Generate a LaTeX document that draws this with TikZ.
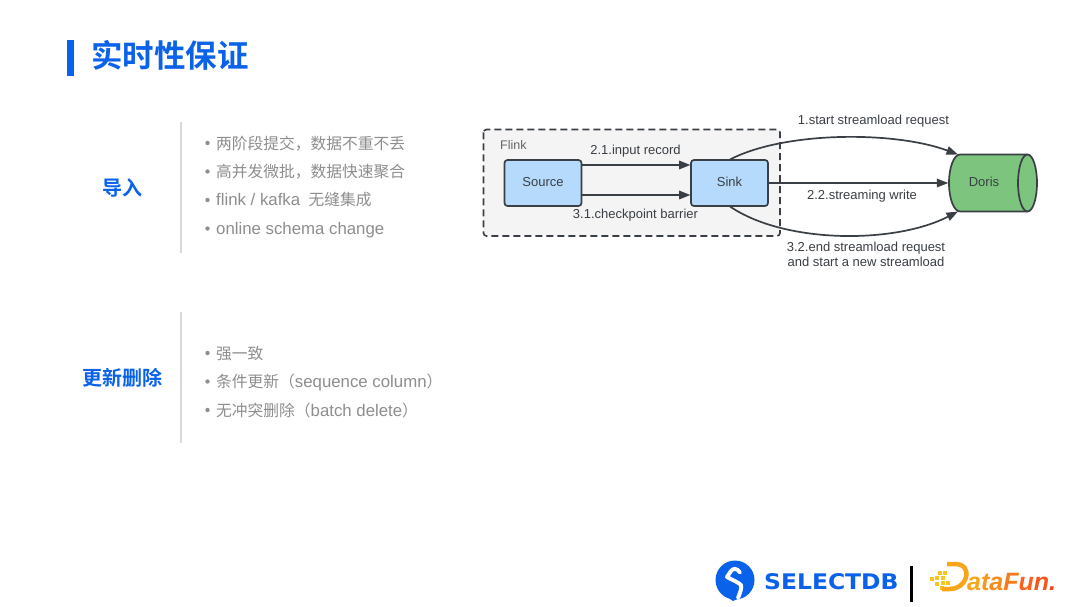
\documentclass[tikz,border=0pt]{standalone}
\usepackage{fontspec}
\setmainfont{Liberation Sans}
\newfontfamily\cjk{Noto Sans CJK SC}
\newfontfamily\cjkb{Noto Sans CJK SC Bold}
\newfontfamily\logofont{DejaVu Sans Bold}
\usetikzlibrary{arrows.meta}
\definecolor{brand}{HTML}{0A62EA}
\definecolor{bodygrey}{HTML}{8E8E8E}
\definecolor{ink}{HTML}{3A3F45}
\definecolor{lightblue}{HTML}{B5DAFB}
\definecolor{dorisgreen}{HTML}{7DC57F}
\definecolor{flinkbg}{HTML}{F4F4F4}
\definecolor{dfa}{HTML}{F9A51A}
\definecolor{dfb}{HTML}{F9971A}
\definecolor{dfc}{HTML}{F98B1A}
\definecolor{dfd}{HTML}{F97A1A}
\definecolor{dfe}{HTML}{F9621A}
\definecolor{dff}{HTML}{F7541A}
\definecolor{dfg}{HTML}{F0471A}
\definecolor{dfy}{HTML}{F9C41E}
\tikzset{
 x=1pt,y=-1pt,
 txt/.style={inner sep=0pt,anchor=base west,text=bodygrey,font=\fontsize{16.8}{17}\selectfont},
 head/.style={inner sep=0pt,text=brand,font=\fontsize{20}{20}\selectfont\cjkb},
 rule/.style={draw=black!15,line width=1.2pt},
 lab/.style={inner sep=0pt,text=ink,font=\fontsize{13}{15}\selectfont,align=center},
 baselab/.style={lab,anchor=base},
 box/.style={draw=ink,line width=1.7pt,rounded corners=3pt,fill=lightblue,minimum width=77pt,minimum height=46pt,inner sep=0pt},
 conn/.style={draw=ink,line width=1.7pt,-{Triangle[length=11.5pt,width=8.5pt]}},
}
\newcommand{\zh}[1]{{\fontsize{15.75}{17}\selectfont\cjk #1}}
\begin{document}
\begin{tikzpicture}
\useasboundingbox (0,0) rectangle (1080,607);
\fill[white] (0,0) rectangle (1080,607);
% title
\fill[brand] (67,40) rectangle (73.5,76);
\node[inner sep=0pt,anchor=west,text=brand,font=\fontsize{31.5}{32}\selectfont\cjkb] (title) at (91,55.5) {实时性保证};
% sections
\node[head] (h1) at (122,188) {导入};
\draw[rule] (181,122) -- (181,253);
\node[head] (h2) at (122,378) {更新删除};
\draw[rule] (181,312) -- (181,443);
\foreach \y in {143,171.5,200,228.5,353,381.5,410}{
 \fill[bodygrey] (207.5,\y) circle (2.2pt);
}
\node[txt] (a) at (216,149.2) {\zh{两阶段提交，数据不重不丢}};
\node[txt] (b) at (216,177.7) {\zh{高并发微批，数据快速聚合}};
\node[txt] (c) at (216,206) {flink / kafka\hspace{8.5pt}\zh{无缝集成}};
\node[txt] (d) at (216,234.2) {online schema change};
\node[txt] (e) at (216,359.2) {\zh{强一致}};
\node[txt] (f) at (216,387.7) {\zh{条件更新（}sequence column\zh{）}};
\node[txt] (g) at (216,416) {\zh{无冲突删除（}batch delete\zh{）}};
% diagram
\draw[draw=ink,fill=flinkbg,line width=1.6pt,dash pattern=on 7pt off 4pt,rounded corners=3pt] (483.5,129.5) rectangle (780,236);
\node[inner sep=0pt,text=black!60,font=\fontsize{12.5}{14}\selectfont,anchor=west] (flink) at (500,145) {Flink};
\node[box] (src) at (543,183) {};
\node[box] (snk) at (729.5,183) {};
\node[baselab] (srcl) at (543,186.7) {Source};
\node[baselab] (snkl) at (729.5,186.7) {Sink};
\node[inner sep=0pt,minimum width=88.5pt,minimum height=57pt] (dor) at (992.75,183) {};
\draw[draw=ink,line width=1.7pt,fill=dorisgreen] (960,154.5) arc[start angle=90,end angle=270,x radius=11pt,y radius=28.5pt] -- (1027.5,211.5) arc[start angle=270,end angle=450,x radius=9.5pt,y radius=28.5pt] -- cycle;
\draw[draw=ink,line width=1.7pt] (1027.5,154.5) arc[start angle=90,end angle=270,x radius=9.5pt,y radius=28.5pt];
\node[baselab] (dorl) at (984,186.7) {Doris};
\coordinate (t1) at (690.5,165);
\coordinate (t2) at (690.5,195);
\draw[conn] (src.east |- t1) -- (t1);
\draw[conn] (src.east |- t2) -- (t2);
\draw[conn] (snk.east) -- (dor.west);
\coordinate (up) at (730,159.5);
\coordinate (dn) at (730,206.5);
\coordinate (du) at (958,154.5);
\coordinate (dd) at (958,211.5);
\draw[conn] (up) .. controls (785,131) and (895,131) .. (du);
\draw[conn] (dn) .. controls (785,244) and (895,244) .. (dd);
\node[baselab] (l1) at (635.5,155) {2.1.input record};
\node[baselab] (l2) at (635.5,218.5) {3.1.checkpoint barrier};
\node[baselab] (l3) at (873.5,125) {1.start streamload request};
\node[baselab] (l4) at (862,200) {2.2.streaming write};
\node[lab] (l5) at (866,254) {3.2.end streamload request\\and start a new streamload};
% logos
\fill[brand] (735,580) circle (19.5);
\fill[brand] (724,595) -- (733,601) -- (746,595) -- cycle;
\draw[white,line width=3.9pt,line cap=round,line join=round] (740,572.5) .. controls (737,568) and (733,568) .. (731,571) -- (727,577) .. controls (732,580) and (738,582) .. (741,585) .. controls (742,588) and (740,593) .. (738,598);
\node[inner sep=0pt,anchor=base west,text=brand,font=\fontsize{21.5}{22}\selectfont\logofont,xscale=1.09] (sdb) at (764,589) {SELECTDB};
\draw[black,line width=2.2pt] (911.5,566) -- (911.5,602);
\foreach \px/\py in {938/571,943/571,930/577,935/576,941/576,935/582,941/581,946/581,940/586}{
 \fill[dfy] (\px,\py) rectangle +(3.6,3.6);
}
\draw[dfa,line width=4.5pt,line join=round] (947,564) -- (955,564) .. controls (964,564) and (968,570) .. (966,577) .. controls (964,585) and (957,589) .. (950,589) -- (942,589);
\node[inner sep=0pt,anchor=base west,font=\fontsize{25}{25}\selectfont\bfseries\itshape] (dfun) at (967,590) {\textcolor{dfa}{a}\textcolor{dfb}{t}\textcolor{dfc}{a}\textcolor{dfd}{F}\textcolor{dfe}{u}\textcolor{dff}{n}\textcolor{dfg}{.}};
\end{tikzpicture}
\end{document}
